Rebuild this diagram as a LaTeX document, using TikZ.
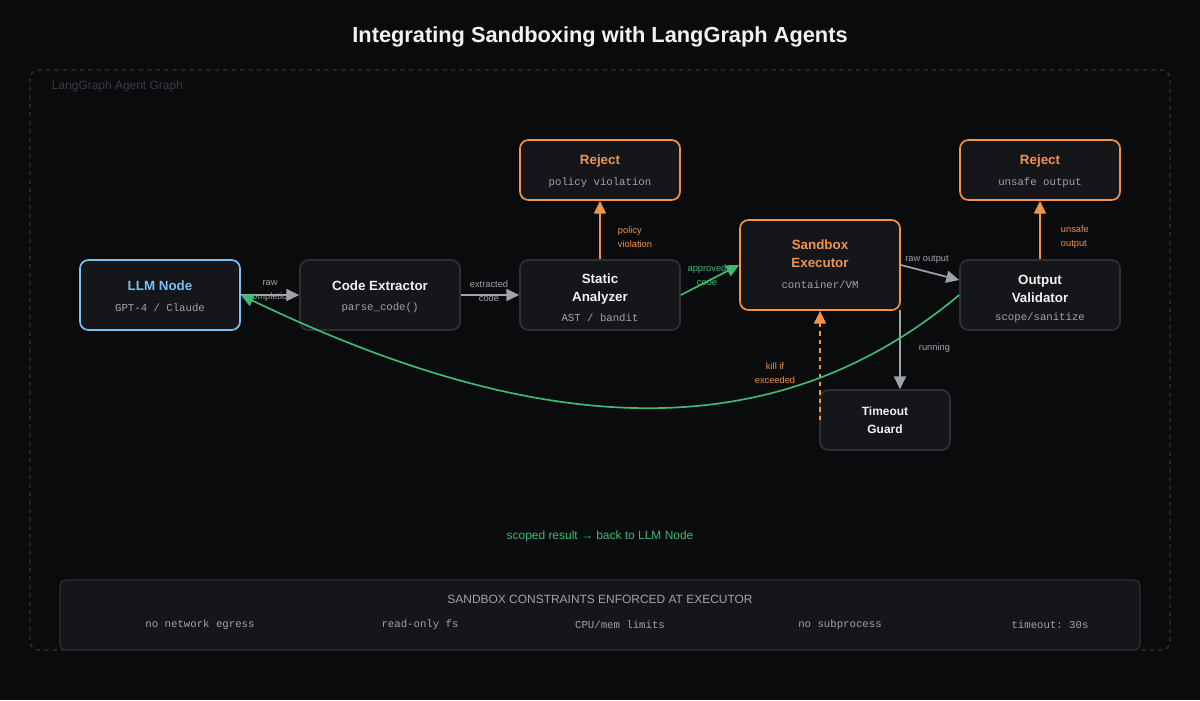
\documentclass[tikz,border=0pt]{standalone}
\usepackage{fontspec}
\setmainfont{Liberation Sans}
\setmonofont{Liberation Mono}
\usetikzlibrary{arrows.meta, positioning}

\definecolor{bgc}{HTML}{0A0B0D}
\definecolor{boxc}{HTML}{15161A}
\definecolor{edgec}{HTML}{2E3036}
\definecolor{faintc}{HTML}{3A3C42}
\definecolor{bluec}{HTML}{7CC0F2}
\definecolor{orangec}{HTML}{F0944A}
\definecolor{greenc}{HTML}{3DBA74}
\definecolor{greyc}{HTML}{A0A4AA}
\definecolor{textc}{HTML}{F2F2F2}

\begin{document}
\begin{tikzpicture}[
    x=0.025cm, y=-0.025cm,
    box/.style={draw=edgec, fill=boxc, rounded corners=6pt, line width=1.2pt, minimum width=4cm, align=center},
    title/.style={font=\bfseries\fontsize{9.5}{12.8}\selectfont, text=textc, align=center},
    mono/.style={font=\ttfamily\fontsize{7.6}{10}\selectfont, text=greyc},
    lbl/.style={font=\fontsize{6.6}{10}\selectfont, align=center},
    arrow/.style={-{Triangle[length=3.2mm, width=3mm]}, line width=1.2pt},
]

% === BACKGROUND ===
\fill[bgc] (0,0) rectangle (1200,700);
\draw[edgec, dashed, rounded corners=6pt, line width=1pt] (30,70) rectangle (1170,650);
\node[anchor=west, font=\fontsize{8.5}{10}\selectfont, text=faintc] (graphlbl) at (47,86) {LangGraph Agent Graph};
\node[font=\bfseries\fontsize{15.5}{18}\selectfont, text=textc] (title) at (600,37) {Integrating Sandboxing with LangGraph Agents};

% === NODES ===
\node[box, draw=bluec, minimum height=1.75cm] (llm) at (160,295) {};
\node[title, text=bluec] at (160,286) {LLM Node};
\node[mono] at (160,308) {GPT-4 / Claude};

\node[box, minimum height=1.75cm] (extract) at (380,295) {};
\node[title] at (380,286) {Code Extractor};
\node[mono] at (380,308) {parse\_code()};

\node[box, minimum height=1.75cm] (static) at (600,295) {};
\node[title] at (600,289) {Static\\Analyzer};
\node[mono] at (600,318) {AST / bandit};

\node[box, draw=orangec, minimum height=1.5cm] (reject1) at (600,170) {};
\node[title, text=orangec] at (600,161) {Reject};
\node[mono] at (600,183) {policy violation};

\node[box, draw=orangec, minimum height=2.25cm] (sandbox) at (820,265) {};
\node[title, text=orangec] at (820,254) {Sandbox\\Executor};
\node[mono] at (820,285) {container/VM};

\node[box, draw=orangec, minimum height=1.5cm] (reject2) at (1040,170) {};
\node[title, text=orangec] at (1040,161) {Reject};
\node[mono] at (1040,183) {unsafe output};

\node[box, minimum height=1.75cm] (validator) at (1040,295) {};
\node[title] at (1040,289) {Output\\Validator};
\node[mono] at (1040,318) {scope/sanitize};

\node[box, minimum width=3.25cm, minimum height=1.5cm] (timeout) at (885,420) {};
\node[title, font=\bfseries\fontsize{8.5}{12.8}\selectfont] at (885,420) {Timeout\\Guard};

% === CONNECTORS ===
\draw[arrow, greyc] (llm.east) -- (extract.west);
\node[lbl, text=greyc] at (270,291) {raw\\completion};
\draw[arrow, greyc] (extract.east) -- (static.west);
\node[lbl, text=greyc] at (489,291) {extracted\\code};
\draw[arrow, orangec] (static.north) -- (reject1.south);
\node[lbl, text=orangec, align=left, anchor=west] at (613,237) {policy\\violation};
\draw[arrow, greenc] (static.east) -- (sandbox.west);
\node[lbl, text=greenc] at (707,275) {approved\\code};
\draw[arrow, greyc] (sandbox.east) -- ([yshift=0.375cm]validator.west);
\node[lbl, text=greyc] at (927,259) {raw output};
\draw[arrow, orangec] (validator.north) -- (reject2.south);
\node[lbl, text=orangec, align=left, anchor=west] at (1056,237) {unsafe\\output};
\coordinate (sbrun) at (900,310);
\draw[arrow, greyc] (sbrun) -- (timeout.north -| sbrun);
\node[lbl, text=greyc, anchor=west] at (914,348) {running};
\coordinate (killsrc) at (820,420);
\draw[arrow, orangec, dashed] (killsrc) -- (sandbox.south -| killsrc);
\node[lbl, text=orangec] at (775,373) {kill if\\exceeded};
\draw[arrow, greenc] (validator.west) .. controls (780,445) and (553,445) .. (llm.east);
\node[lbl, text=greenc, font=\fontsize{8.5}{10}\selectfont] (scoped) at (600,536) {scoped result \textrightarrow{} back to LLM Node};

% === CONSTRAINTS PANEL ===
\draw[edgec, fill=boxc, rounded corners=4pt, line width=0.8pt] (60,580) rectangle (1140,650);
\node[font=\fontsize{8.5}{10}\selectfont, text=greyc] (constraints) at (600,599) {SANDBOX CONSTRAINTS ENFORCED AT EXECUTOR};
\foreach \x/\t in {200/{no network egress}, 420/{read-only fs}, 620/{CPU/mem limits}, 840/{no subprocess}, 1050/{timeout: 30s}}
  \node[mono] at (\x,625) {\t};

\end{tikzpicture}
\end{document}
